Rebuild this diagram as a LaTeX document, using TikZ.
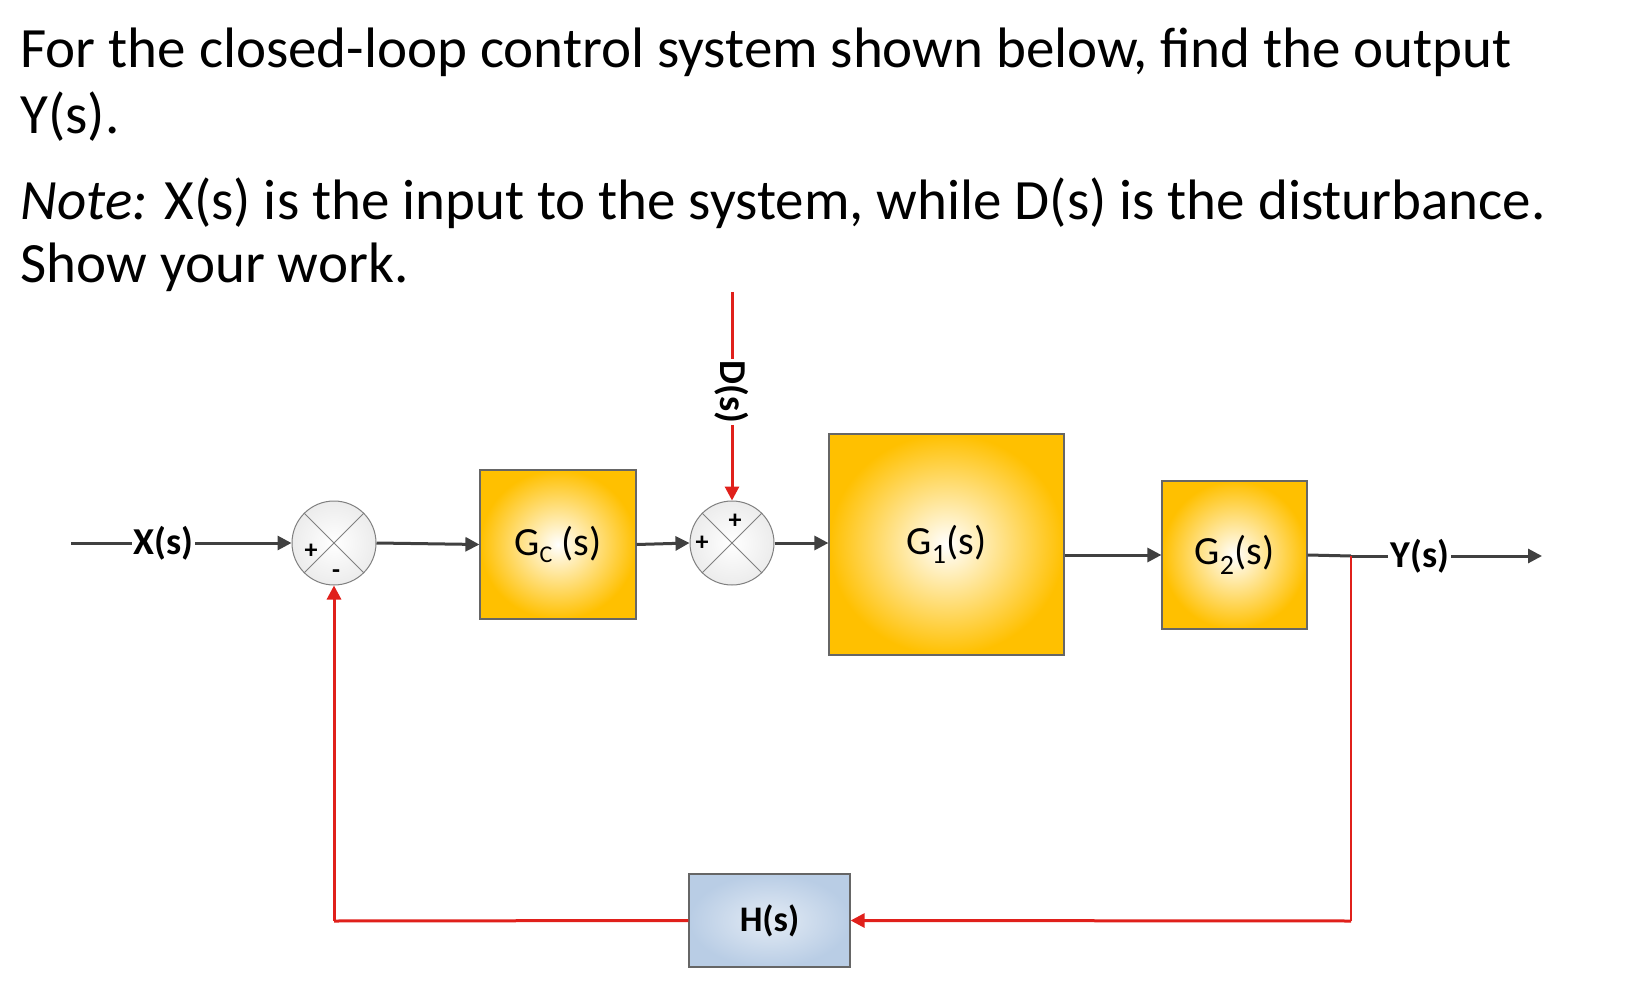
\documentclass[tikz,border=0pt]{standalone}
\usepackage{fontspec}
\setmainfont{Carlito}
\usetikzlibrary{arrows.meta}
\definecolor{gold}{HTML}{FFC000}
\definecolor{dk}{HTML}{404040}
\definecolor{rd}{HTML}{E0201B}
\definecolor{hb}{HTML}{B9CDE5}
\tikzset{
 x=1pt,y=-1pt,
 gbox/.style={draw=dk!80,line width=1.2pt,inner outer color? /.style={}},
 gblk/.style={draw=dk!80,line width=1.2pt,inner color=white,outer color=gold,font=\fontsize{40}{40}\selectfont},
 hblk/.style={draw=dk!80,line width=1.2pt,inner color=hb!40,outer color=hb,font=\fontsize{36}{36}\selectfont\bfseries},
 sum/.style={circle,draw=gray,line width=1pt,inner color=white,outer color=gray!15,minimum size=84pt,inner sep=0pt},
 ar/.style={draw=dk,line width=3pt,-{Triangle[length=14pt,width=14pt]}},
 ln/.style={draw=dk,line width=3pt},
 rar/.style={draw=rd,line width=3pt,-{Triangle[length=14pt,width=14pt]}},
 rln/.style={draw=rd,line width=3pt},
 lab/.style={fill=white,inner sep=2pt,font=\fontsize{38}{38}\selectfont\bfseries},
 sg/.style={font=\fontsize{26}{26}\selectfont\bfseries,inner sep=0pt}
}
\begin{document}
\begin{tikzpicture}
\useasboundingbox (0,0) rectangle (1636,992);
\node[anchor=base west,font=\fontsize{57}{57}\selectfont] (t1) at (17,68) {For the closed-loop control system shown below, find the output};
\node[anchor=base west,font=\fontsize{57}{57}\selectfont] (t2) at (17,134) {Y(s).};
\node[anchor=base west,font=\fontsize{57}{57}\selectfont] (t3) at (17,220) {\textit{Note:} X(s) is the input to the system, while D(s) is the disturbance.};
\node[anchor=base west,font=\fontsize{57}{57}\selectfont] (t4) at (17,283) {Show your work.};

\node[sum] (s1) at (334,543) {};
\draw[gray,line width=1pt] (s1.45)--(s1.225) (s1.135)--(s1.315);
\node[sum] (s2) at (732,543) {};
\draw[gray,line width=1pt] (s2.45)--(s2.225) (s2.135)--(s2.315);
\node[sg] at (311,551) {+};
\node[sg] at (336,574) {-};
\node[sg] at (702,543) {+};
\node[sg] at (735,521) {+};

\node[gblk,minimum width=156pt,minimum height=149pt] (gc) at (558,544.5) {G\textsubscript{\fontsize{24}{24}\selectfont C} (s)};
\node[gblk,minimum width=235pt,minimum height=221pt] (g1) at (946.5,544.5) {G\textsubscript{1}(s)};
\node[gblk,minimum width=145pt,minimum height=148pt] (g2) at (1234.5,555) {G\textsubscript{2}(s)};
\node[hblk,minimum width=161pt,minimum height=93pt] (h) at (769.5,920.5) {H(s)};

\coordinate (xin) at (71,543);
\coordinate (br) at (1351,556);
\coordinate (yout) at (1542,556);
\coordinate (dt) at (732,292);
\coordinate (fr) at (1351,921);
\coordinate (fl) at (334,921);

\draw[ar] (xin) -- (s1.west) node[lab,pos=0.42] (xl) {X(s)};
\draw[ar] (s1.east) -- (gc.west);
\draw[ar] (gc.east) -- (s2.west);
\draw[ar] (s2.east) -- (s2.east -| g1.west);
\draw[ar] (g1.east |- g2.west) -- (g2.west);
\draw[ln] (g2.east) -- (br);
\draw[ar] (br) -- (yout) node[lab,pos=0.36] (yl) {Y(s)};
\draw[rar] (dt) -- (s2.north) node[lab,pos=0.48,rotate=-90] (dl) {D(s)};
\draw[rln,line width=2pt] (br) -- (fr);
\draw[rar] (fr) -- (h.east);
\draw[rln] (h.west) -- (fl);
\draw[rar] (fl) -- (s1.south);
\end{tikzpicture}
\end{document}
